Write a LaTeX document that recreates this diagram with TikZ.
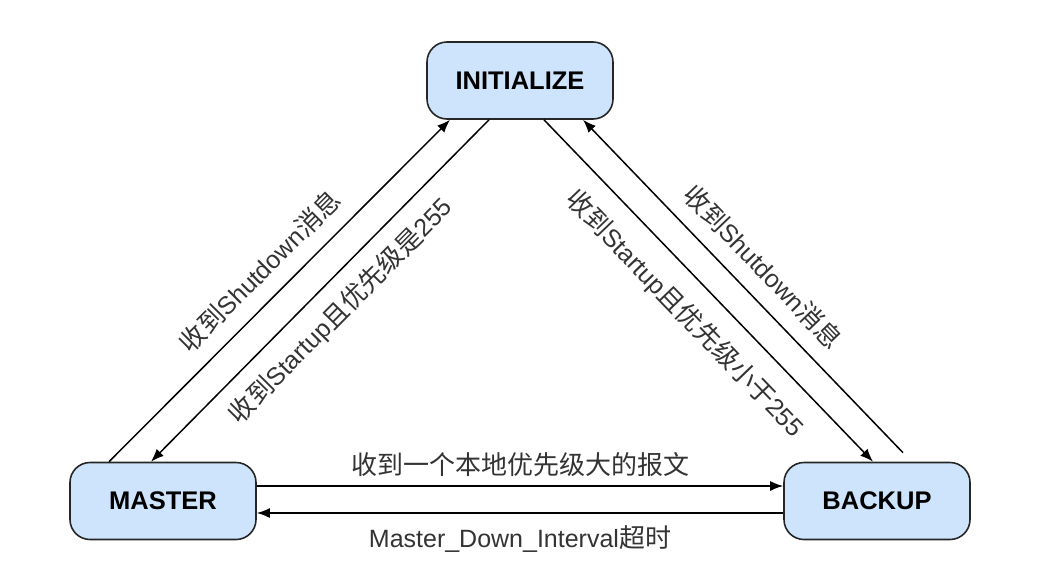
\documentclass[tikz,border=0pt]{standalone}
\usepackage{fontspec}
\setmainfont{Liberation Sans}
\newfontfamily\cjk[Scale=1.04]{Noto Sans CJK SC}
\usepackage{tikz}
\usetikzlibrary{arrows.meta}
\definecolor{stateblue}{RGB}{205,228,252}
\newcommand{\zh}[1]{{\cjk #1}}

\begin{document}
\begin{tikzpicture}[x=1pt, y=-1pt,
  state/.style={draw=black!85, line width=1.6pt, fill=stateblue, rounded corners=20pt,
    minimum width=186pt, minimum height=77pt, font=\fontsize{25.5}{30}\selectfont\bfseries},
  trans/.style={line width=1.5pt, -{Latex[length=13pt,width=10pt]}},
  lbl/.style={font=\fontsize{25}{30}\selectfont, text=black!80, inner sep=0pt}]
\useasboundingbox (0,0) rectangle (1058,584);
%%%%% States %%%%%
\node[state] (init) at (520,80.5) {INITIALIZE};
\node[state] (master) at (163,501) {MASTER};
\node[state] (backup) at (877,501) {BACKUP};
%%%%% Diagonal transitions %%%%%
\draw[trans] ([xshift=-54pt]master.north) -- node[lbl, sloped, above=15pt] {\zh{收到}Shutdown\zh{消息}} ([xshift=-70pt]init.south);
\draw[trans] ([xshift=-31pt]init.south) -- node[lbl, sloped, below=15pt] {\zh{收到}Startup\zh{且优先级是}255} ([xshift=-12pt]master.north);
\draw[trans] ([xshift=24pt]init.south) -- node[lbl, sloped, below=19pt] {\zh{收到}Startup\zh{且优先级小于}255} ([xshift=-4pt]backup.north);
\draw[trans] ([xshift=26pt, yshift=9pt]backup.north) -- node[lbl, sloped, above=15pt] {\zh{收到}Shutdown\zh{消息}} ([xshift=63pt]init.south);
%%%%% Horizontal transitions %%%%%
\draw[trans] ([yshift=15pt]master.east) -- node[lbl, above=9pt] {\zh{收到一个本地优先级大的报文}} ([yshift=15pt]backup.west);
\draw[trans] ([yshift=-12pt]backup.west) -- node[lbl, below=12pt] {Master\_Down\_Interval\zh{超时}} ([yshift=-12pt]master.east);
\end{tikzpicture}
\end{document}
